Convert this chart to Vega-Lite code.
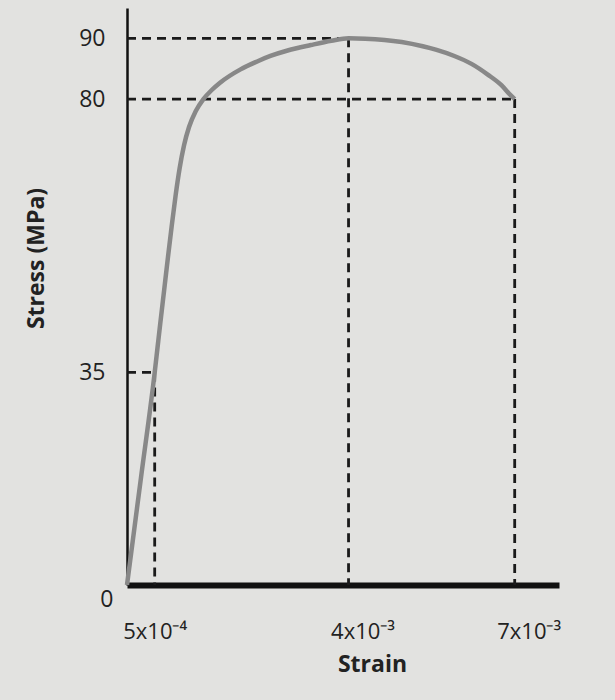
{
  "$schema": "https://vega.github.io/schema/vega-lite/v6.json",
  "width": 432,
  "height": 577,
  "autosize": {"type": "none"},
  "padding": {"left": 127, "top": 8, "right": 56, "bottom": 115},
  "background": "#e2e2e0",
  "config": {"view": {"stroke": null}, "font": "Open Sans"},
  "datasets": {
    "guides": [
      {"x1": 0, "x2": 0.0005, "y1": 35, "y2": 35},
      {"x1": 0.0005, "x2": 0.0005, "y1": 35, "y2": 0},
      {"x1": 0, "x2": 0.004, "y1": 90, "y2": 90},
      {"x1": 0.004, "x2": 0.004, "y1": 90, "y2": 0},
      {"x1": 0, "x2": 0.007, "y1": 80, "y2": 80},
      {"x1": 0.007, "x2": 0.007, "y1": 80, "y2": 0}
    ],
    "curve": [
      {"strain": 0, "stress": 0},
      {"strain": 0.00025, "stress": 17.5},
      {"strain": 0.0005, "stress": 35},
      {"strain": 0.00055, "stress": 39},
      {"strain": 0.0006, "stress": 43},
      {"strain": 0.00067, "stress": 48.5},
      {"strain": 0.00074, "stress": 54},
      {"strain": 0.00081, "stress": 59.3},
      {"strain": 0.00088, "stress": 64.3},
      {"strain": 0.00095, "stress": 68.6},
      {"strain": 0.00103, "stress": 72.4},
      {"strain": 0.00112, "stress": 75.4},
      {"strain": 0.00124, "stress": 78},
      {"strain": 0.00138, "stress": 80},
      {"strain": 0.00153, "stress": 81.5},
      {"strain": 0.00168, "stress": 82.7},
      {"strain": 0.00205, "stress": 84.9},
      {"strain": 0.00235, "stress": 86.2},
      {"strain": 0.00259, "stress": 87.1},
      {"strain": 0.0029, "stress": 88},
      {"strain": 0.00332, "stress": 88.9},
      {"strain": 0.00369, "stress": 89.6},
      {"strain": 0.004, "stress": 90},
      {"strain": 0.0043, "stress": 89.95},
      {"strain": 0.00496, "stress": 89.4},
      {"strain": 0.00534, "stress": 88.7},
      {"strain": 0.00559, "stress": 88.1},
      {"strain": 0.00591, "stress": 87.1},
      {"strain": 0.00622, "stress": 85.8},
      {"strain": 0.00652, "stress": 84},
      {"strain": 0.00676, "stress": 82.3},
      {"strain": 0.00693, "stress": 80.6},
      {"strain": 0.007, "stress": 80}
    ]
  },
  "layer": [
    {
      "data": {"name": "guides"},
      "mark": {"type": "rule", "strokeDash": [9, 6], "strokeWidth": 2.8, "color": "#1a1a1a"},
      "encoding": {
        "x": {
          "field": "x1",
          "type": "quantitative",
          "title": "Strain",
          "scale": {"domain": [0, 0.0078], "nice": false},
          "axis": {
            "values": [0.0005, 0.004, 0.007],
            "labelExpr": "datum.value < 0.001 ? '5x10⁻⁴' : datum.value < 0.005 ? '4x10⁻³' : '7x10⁻³'",
            "labelOffset": {"condition": {"test": "datum.value > 0.001", "value": 14}, "value": 0},
            "domainColor": "#111111",
            "domainWidth": 6,
            "ticks": false,
            "grid": false,
            "labelFontSize": 22,
            "labelColor": "#222222",
            "labelPadding": 36,
            "titleFontSize": 23,
            "titleFontWeight": "bold",
            "titleColor": "#222222",
            "titlePadding": 11,
            "titleX": 245
          }
        },
        "x2": {"field": "x2"},
        "y": {
          "field": "y1",
          "type": "quantitative",
          "title": "Stress (MPa)",
          "scale": {"domain": [0, 95], "nice": false},
          "axis": {
            "values": [0, 35, 80, 90],
            "labelOffset": {"condition": {"test": "datum.value == 0", "value": 14}, "value": 0},
            "labelPadding": {"condition": {"test": "datum.value == 0", "value": 14}, "value": 22},
            "domainColor": "#111111",
            "domainWidth": 2.5,
            "ticks": false,
            "grid": false,
            "labelFontSize": 23,
            "labelColor": "#222222",
            "titleFontSize": 23,
            "titleFontWeight": "bold",
            "titleColor": "#222222",
            "titlePadding": 30,
            "titleY": 250
          }
        },
        "y2": {"field": "y2"}
      }
    },
    {
      "data": {"name": "curve"},
      "mark": {"type": "line", "interpolate": "monotone", "color": "#888888", "strokeWidth": 4.5},
      "encoding": {
        "x": {"field": "strain", "type": "quantitative", "title": "Strain"},
        "y": {"field": "stress", "type": "quantitative", "title": "Stress (MPa)"}
      }
    }
  ]
}
